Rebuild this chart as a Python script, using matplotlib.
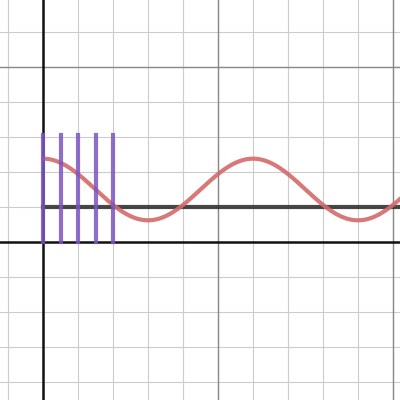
import numpy as np
import matplotlib.pyplot as plt

# values (graph units)
wave_center = 1.5
wave_amp = 0.88
wave_period = 6.0
baseline_y = 1.0
stick_x = [0, 0.5, 1, 1.5, 2]
stick_top = 3.05

fig = plt.figure(figsize=(4, 4), dpi=100)
ax = fig.add_axes([0, 0, 1, 1])
ax.set_xlim(-1.23, 10.2)
ax.set_ylim(-4.51, 6.91)

# grid: minor every 1, major every 5
for v in np.arange(-1, 11):
    ax.axvline(v, color='#cccccc', lw=0.8, zorder=0)
for v in np.arange(-4, 7):
    ax.axhline(v, color='#cccccc', lw=0.8, zorder=0)
for v in [5, 10]:
    ax.axvline(v, color='#888888', lw=1.0, zorder=0)
for v in [-5, 5]:
    ax.axhline(v, color='#888888', lw=1.0, zorder=0)
ax.axvline(0, color='#111111', lw=1.8, zorder=1)
ax.axhline(0, color='#111111', lw=1.8, zorder=1)

xs = np.linspace(0, 10.3, 400)
ax.plot(xs, wave_center + wave_amp * np.cos(2 * np.pi * xs / wave_period),
        color='#d46a6a', lw=3, alpha=0.9, zorder=3, solid_capstyle='round')
ax.plot([0, 10.3], [baseline_y, baseline_y], color='#333333', lw=3, alpha=0.9, zorder=2)
for x in stick_x:
    ax.plot([x, x], [0, stick_top], color='#7a55c0', lw=3, alpha=0.85, zorder=4)

ax.axis('off')
fig.savefig('out.png', dpi=100)
